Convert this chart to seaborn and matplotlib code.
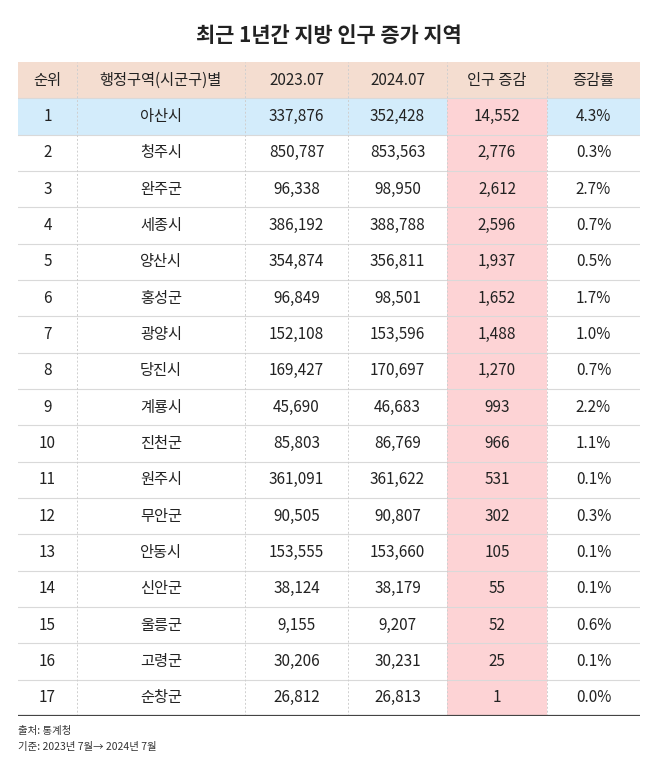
import numpy as np
import pandas as pd
import matplotlib.pyplot as plt
import seaborn as sns
from matplotlib import font_manager
from matplotlib.colors import ListedColormap

# pick a Korean-capable font
cjk = [f for f in font_manager.findSystemFonts() if 'CJK' in f or 'cjk' in f.lower()]
for f in cjk:
    try:
        font_manager.fontManager.addfont(f)
    except Exception:
        pass
names = sorted({font_manager.FontProperties(fname=f).get_name() for f in cjk})
families = [n for n in names if 'KR' in n] + [n for n in names if 'KR' not in n]
plt.rcParams['font.family'] = families + ['Noto Sans CJK KR', 'Noto Sans CJK JP', 'DejaVu Sans']

# Table data
ranks = list(range(1, 18))
regions = ['아산시', '청주시', '완주군', '세종시', '양산시', '홍성군', '광양시', '당진시', '계룡시',
           '진천군', '원주시', '무안군', '안동시', '신안군', '울릉군', '고령군', '순창군']
pop_2023 = [337876, 850787, 96338, 386192, 354874, 96849, 152108, 169427, 45690,
            85803, 361091, 90505, 153555, 38124, 9155, 30206, 26812]
pop_2024 = [352428, 853563, 98950, 388788, 356811, 98501, 153596, 170697, 46683,
            86769, 361622, 90807, 153660, 38179, 9207, 30231, 26813]
change = [14552, 2776, 2612, 2596, 1937, 1652, 1488, 1270, 993,
          966, 531, 302, 105, 55, 52, 25, 1]
rate = [4.3, 0.3, 2.7, 0.7, 0.5, 1.7, 1.0, 0.7, 2.2, 1.1, 0.1, 0.3, 0.1, 0.1, 0.6, 0.1, 0.0]
headers = ['순위', '행정구역(시군구)별', '2023.07', '2024.07', '인구 증감', '증감률']

df = pd.DataFrame({'순위': ranks, '지역': regions, '2023': pop_2023,
                   '2024': pop_2024, '증감': change, '증감률': rate})

col_w = [59, 168, 103, 99, 100, 93]
n_rows = len(df) + 1

# colour codes per cell: 0 white, 1 header, 2 highlight row, 3 change column
codes = np.zeros((n_rows, len(col_w)), dtype=int)
codes[0, :] = 1
codes[1, :] = 2
codes[1:, 4] = 3
grid = np.repeat(codes, col_w, axis=1)
cmap = ListedColormap(['#ffffff', '#f4ddd0', '#d3ecfb', '#fdd3d5'])

fig = plt.figure(figsize=(6.58, 7.73), dpi=100)
ax = fig.add_axes([18 / 658, 1 - 716 / 773, 622 / 658, 654 / 773])
sns.heatmap(grid, ax=ax, cmap=cmap, vmin=-0.5, vmax=3.5, cbar=False,
            xticklabels=False, yticklabels=False)

edges = np.concatenate([[0], np.cumsum(col_w)])
centers = (edges[:-1] + edges[1:]) / 2

for j, h in enumerate(headers):
    ax.text(centers[j], 0.5, h, ha='center', va='center', fontsize=11, color='#222222')

for i, r in df.iterrows():
    vals = [str(r['순위']), r['지역'], f"{r['2023']:,}", f"{r['2024']:,}",
            f"{r['증감']:,}", f"{r['증감률']:.1f}%"]
    for j, v in enumerate(vals):
        ax.text(centers[j], i + 1.5, v, ha='center', va='center', fontsize=11, color='#222222')

for y in range(1, n_rows):
    ax.axhline(y, color='#d9d9d9', lw=0.8)
for x in edges[1:-1]:
    ax.axvline(x, color='#cfcfcf', lw=0.7, ls=(0, (2, 2)))
ax.axhline(n_rows, color='#444444', lw=1.6)

fig.text(0.5, 1 - 36 / 773, '최근 1년간 지방 인구 증가 지역', ha='center', va='center',
         fontsize=15, fontweight='bold', color='#222222')
fig.text(18 / 658, 1 - 731 / 773, '출처: 통계청', fontsize=7.5, color='#333333', va='center')
fig.text(18 / 658, 1 - 747 / 773, '기준: 2023년 7월→ 2024년 7월', fontsize=7.5, color='#333333', va='center')

fig.savefig('out.png', dpi=100)
